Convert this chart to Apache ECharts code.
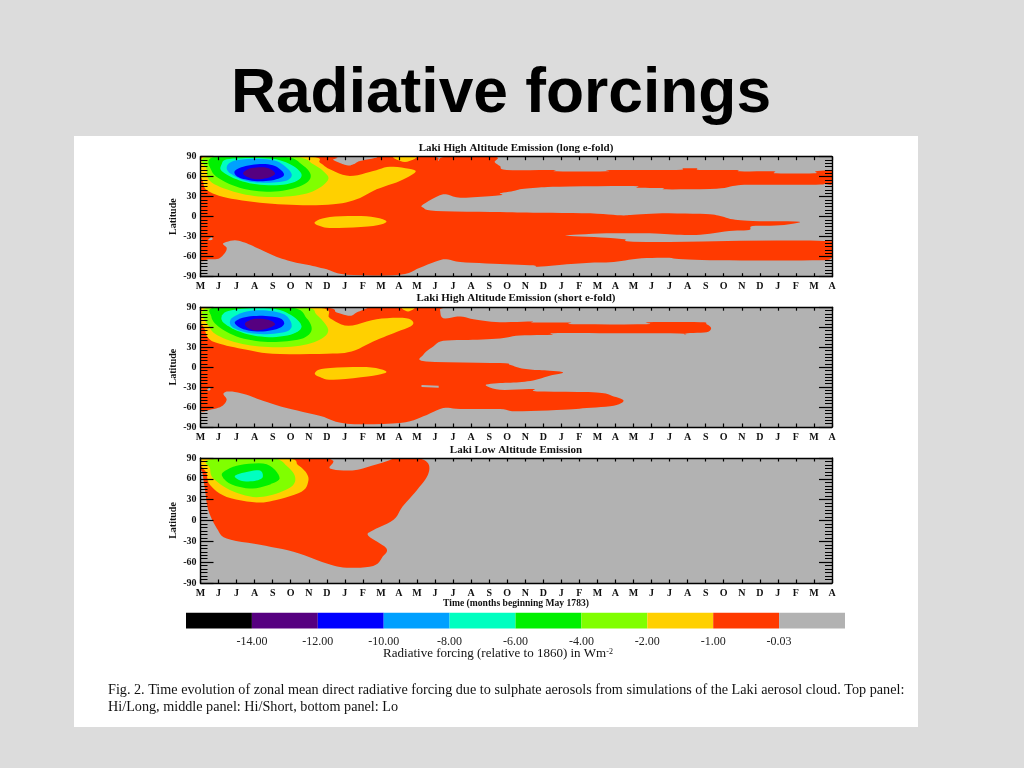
<!DOCTYPE html>
<html><head><meta charset="utf-8">
<style>html,body{margin:0;padding:0;background:#dcdcdc}#c{width:1024px;height:768px}</style>
<script src="https://cdn.jsdelivr.net/npm/echarts@6/dist/echarts.min.js"></script>
</head><body><div id="c"></div>
<script>
const monthLabels = ['M','J','J','A','S','O','N','D','J','F','M','A','M','J','J','A','S','O','N','D','J','F','M','A','M','J','J','A','S','O','N','D','J','F','M','A'];
const latTicks = [-90,-60,-30,0,30,60,90];
const barLabels = ['','-14.00','-12.00','-10.00','-8.00','-6.00','-4.00','-2.00','-1.00','-0.03',''];
const barCells = [0,1,2,3,4,5,6,7,8,9];

// contour outlines as [month index, latitude]
const longRed = [[0,90],[7,90],[7.36,85],[8.1,77],[8.47,78.5],[8.84,83.5],[9.76,88.5],[9.95,90],[12.9,90],[13.18,84],[13.6,90],[16.3,90],[16.3,82],[16.6,76],[16.96,70],[19.55,70],[19.73,68],[22.5,68],[22.7,70],[26.38,70],[26.75,72.5],[27.5,72.5],[27.67,70],[29.7,70],[29.9,68],[31.75,68],[31.9,65],[34,65],[34.1,68],[35,68],[35,49],[34.6,49],[34.1,48],[30.45,48],[29.5,46],[28.6,42],[25.8,41],[25.64,43],[24.2,43.5],[23.98,46],[19.9,45],[18.6,43.5],[17.7,41],[17.33,38.5],[16.6,35],[16.6,32],[14.4,28.5],[13.45,33.5],[12.35,18.5],[12.35,13.5],[13.05,8.5],[16.6,7],[18.44,6],[21.6,5],[23.3,2],[24,3],[25.6,5],[28,4],[28.8,1],[29.5,-4],[30.6,-6.5],[33.2,-7.5],[32.1,-13],[30.6,-14],[30.4,-20],[29.3,-21.5],[27.7,-27],[26.4,-27],[24.9,-25],[22.5,-25],[20.47,-27.5],[20.47,-29],[22.5,-31.5],[23.5,-34],[24.7,-38],[35,-37],[35,-61.5],[33.9,-65.5],[29.3,-65.5],[26.75,-64],[25.8,-61.5],[24.2,-63],[22.9,-68],[21.6,-69],[20.3,-71.5],[18.7,-75],[18.44,-73],[16.6,-71],[14.4,-68],[13.45,-64],[12.16,-76.5],[11.05,-87],[8.1,-87],[7,-79],[6.07,-73],[5.15,-68],[4.2,-60],[3.3,-49],[2.56,-40],[1.91,-35.5],[1.26,-40],[1.45,-46.5],[1.36,-54],[1,-63],[0.43,-64],[0,-65],[0,-37],[0.6,-35],[0.6,-31],[0,-29]];
const longYellow = [[0.16,90],[5.97,90],[6.62,81],[7.17,71],[8.28,61],[9.57,68.5],[10.5,75],[11.7,71],[11.88,66],[11.05,53.5],[9.76,41],[8.65,26],[7.36,18.5],[5.33,17.5],[3.3,21],[1.45,28.5],[0.43,38.5],[0.16,51]];
const longYellowEq = [[6.34,-8],[7.17,-0.5],[9.2,0.5],[10.3,-6.5],[9.57,-14],[7.36,-17],[6.62,-14]];
const longYellowTop = [[10.68,90],[11.97,90],[11.33,82]];
const longLime = [[0.43,90],[5.14,90],[6.25,78.5],[6.9,66],[7.08,56],[6.6,43.5],[5.7,33.5],[4.2,29.5],[2.74,32],[1.45,41],[0.53,53.5],[0.34,71]];
const longGreen = [[0.8,90],[4.6,90],[5.6,78.5],[6.1,63.5],[5.88,51],[4.96,41],[3.67,37.5],[2.37,42],[1.27,53.5],[0.62,68.5]];
const longTeal = [[1.45,86],[2.74,88],[4.2,86],[5.14,76],[5.6,63.5],[5.33,53.5],[4.4,47.5],[3.1,48.5],[2,56],[1.17,68.5],[1.17,78.5]];
const longSky = [[1.82,83.5],[3.1,87],[4.2,83.5],[4.87,71],[5.05,61],[4.68,53.5],[3.67,51],[2.56,53.5],[1.73,63.5],[1.45,73.5]];
const longBlue = [[1.9,68.5],[2.37,75],[3.3,79],[4.13,76],[4.63,63.5],[4.2,56],[3.3,53],[2.47,56],[2,61]];
const longPurple = [[2.37,66],[2.83,73],[3.67,73.5],[4.13,65],[3.76,58.5],[3.1,56],[2.56,60]];

const shortRed = [[0,90],[6.6,90],[7.55,82],[8.28,77],[8.65,82],[9.2,88],[9.6,90],[13.2,90],[13.27,86],[13.45,73.5],[14.4,76],[15.3,71],[16.6,67.5],[18.35,68.5],[18.44,67],[20.47,67],[20.65,64.5],[24.7,64.5],[24.8,67.5],[27.7,67.5],[28.05,64.5],[28.3,58.5],[28.05,52.5],[27,51],[26.75,48.5],[26.55,50.5],[22.1,51],[19.55,51],[19.45,48.5],[17.7,47.5],[16.6,43],[15.1,41],[13.45,39.5],[12.9,31],[12.35,18.5],[12.5,8.5],[16.6,6],[17.15,3.5],[17.7,-1.5],[18.4,-4],[19.2,-5],[20.1,-8],[19.35,-13],[18.44,-20],[17.5,-23],[16.6,-24],[15.8,-27],[16.6,-34],[18.44,-33],[18.65,-36.5],[21.95,-38],[22.9,-44],[23.45,-50.5],[22.9,-58],[21.4,-61.5],[20.1,-64],[17.5,-66.5],[16.6,-63],[14.4,-63],[13.45,-61.5],[12.35,-74],[11.05,-84],[8.1,-85],[6.6,-73],[4.77,-61.5],[3.3,-49],[2.56,-41.5],[1.63,-36.5],[1.27,-40],[1.45,-49],[1.17,-59],[0.53,-64],[0,-65],[0,-37],[0.5,-35],[0.5,-31],[0,-29]];
const shortSlit = [[12.25,-27],[13.2,-28],[13.2,-31],[12.25,-30]];
const shortYellow = [[0.15,90],[6.44,90],[7.17,73.5],[8.2,62],[9.76,72],[11.4,73.5],[11.76,63.5],[10.7,51],[9.57,38.5],[8.37,23.5],[7,20],[4,20],[2.56,26],[1.27,33.5],[0.53,41],[0.25,56]];
const shortYellowEq = [[6.34,-9],[6.9,-2],[9.2,0],[10.3,-6.5],[9.57,-13],[7.36,-19],[6.62,-15]];
const shortYellowTop = [[11.14,90],[11.88,90],[11.5,83.5]];
const shortLime = [[0.45,90],[5.6,90],[6.44,78.5],[7.08,56],[6.6,41],[5.5,32],[4,30],[2.56,33.5],[1.27,43.5],[0.53,58.5]];
const shortGreen = [[0.9,90],[4.96,90],[5.88,73.5],[6.16,56],[5.7,43.5],[4.6,38.5],[3.3,38.5],[2,46],[0.99,61],[0.6,76]];
const shortTeal = [[1.45,83.5],[2.74,88.5],[4.2,87],[5.14,76],[5.6,61],[5.14,50],[4,45],[2.74,48.5],[1.73,58.5],[1.17,71]];
const shortSky = [[1.73,73.5],[2.56,83.5],[3.67,85],[4.68,78.5],[5.05,63.5],[4.77,53.5],[3.67,49.5],[2.56,52],[1.73,61]];
const shortBlue = [[1.9,67],[2.47,75],[3.44,77],[4.4,73.5],[4.63,64.5],[4.2,57],[3.3,53.5],[2.37,57]];
const shortPurple = [[2.47,66],[3,72.5],[3.76,71],[4.13,64.5],[3.76,58.5],[3.1,55],[2.65,58.5]];

const lowRed = [[0,90],[6.8,90],[7.17,75],[8.28,72],[9,75],[10.5,87],[10.7,90],[12,90],[12.62,82],[12.6,65.5],[12,44],[11.2,20],[10.7,1],[9.57,-14],[9.3,-22],[10.3,-40],[10.1,-52],[9.57,-65.5],[8.1,-68],[7,-62],[5.15,-45],[3.3,-35],[1.45,-26],[0.9,-11],[0.43,15],[0.25,44],[0.1,70]];
const lowYellow = [[0.2,90],[4.7,90],[5.4,80],[5.88,68],[5.97,56],[5.6,41.5],[4.2,29.5],[3.1,26],[1.45,34],[0.53,51],[0.34,68]];
const lowLime = [[0.53,88],[3.9,90],[4.8,78],[5.24,63],[5.05,49],[4,37],[2.9,34],[1.63,44],[0.7,61],[0.53,75]];
const lowGreen = [[1.27,70],[2.2,80],[3.67,81],[4.37,63],[4,53.5],[2.9,46],[1.8,51],[1.27,61]];
const lowTeal = [[1.9,64],[2.56,70],[3.3,72],[3.44,62],[3,57],[2.3,57]];

const colors = ['#000000','#560080','#0000ff','#00a0ff','#00ffc0','#00f000','#80ff00','#ffd000','#ff3a00','#b2b2b2'];
const [cBlack,cPurple,cBlue,cSky,cTeal,cGreen,cLime,cYellow,cRed,cGray] = colors;

const panels = [
  [[longRed,cRed],[longYellow,cYellow],[longYellowEq,cYellow],[longYellowTop,cYellow],[longLime,cLime],[longGreen,cGreen],[longTeal,cTeal],[longSky,cSky],[longBlue,cBlue],[longPurple,cPurple]],
  [[shortRed,cRed],[shortSlit,cGray],[shortYellow,cYellow],[shortYellowEq,cYellow],[shortYellowTop,cYellow],[shortLime,cLime],[shortGreen,cGreen],[shortTeal,cTeal],[shortSky,cSky],[shortBlue,cBlue],[shortPurple,cPurple]],
  [[lowRed,cRed],[lowYellow,cYellow],[lowLime,cLime],[lowGreen,cGreen],[lowTeal,cTeal]]
];

const F = 'Liberation Serif';
const layout = [{top:156.7,height:120},{top:307.2,height:119.8},{top:458,height:125}];
const grids = layout.map(g => ({left:200.5,width:631.5,top:g.top,height:g.height,show:true,backgroundColor:cGray,borderWidth:0}));
grids.push({left:186,width:659,top:612.7,height:15.8,show:false});

const line = {show:true,onZero:false,lineStyle:{color:'#000',width:1.4}};
const xAxes = [], yAxes = [];
layout.forEach((g,i) => {
  ['bottom','top'].forEach(pos => xAxes.push({
    gridIndex:i,type:'value',position:pos,min:0,max:35,interval:1,z:10,
    axisLine:line,splitLine:{show:false},
    axisTick:{show:true,inside:true,length:3.5,lineStyle:{color:'#000',width:1.2}},
    axisLabel:{show:pos==='bottom',margin:5,color:'#111',fontFamily:F,fontWeight:'bold',fontSize:10,formatter:v=>monthLabels[v]}
  }));
  ['left','right'].forEach(pos => yAxes.push({
    gridIndex:i,type:'value',position:pos,min:-90,max:90,interval:30,z:10,
    name:pos==='left'?'Latitude':'',nameLocation:'middle',nameGap:22,nameRotate:90,nameMoveOverlap:false,
    nameTextStyle:{color:'#111',fontFamily:F,fontWeight:'bold',fontSize:10},
    axisLine:line,splitLine:{show:false},
    axisTick:{show:true,inside:true,length:13,lineStyle:{color:'#000',width:1.2}},
    minorTick:{show:true,splitNumber:6,length:7,lineStyle:{color:'#000',width:1}},
    axisLabel:{show:pos==='left',margin:4,color:'#111',fontFamily:F,fontWeight:'bold',fontSize:10,formatter:v=>latTicks.includes(v)?String(v):''}
  }));
});
xAxes.push({gridIndex:3,type:'value',min:0,max:10,interval:1,axisLine:{show:false},axisTick:{show:false},splitLine:{show:false},
  axisLabel:{margin:7,color:'#222',fontFamily:F,fontSize:12,showMinLabel:false,showMaxLabel:false,formatter:v=>barLabels[v]}});
yAxes.push({gridIndex:3,type:'value',min:0,max:1,show:false,splitLine:{show:false}});

// closed Catmull-Rom rounding of an outline, applied to the projected outline only
function rounded(p){
  const n=p.length,out=[];
  for(let i=0;i<n;i++){
    const a=p[(i-1+n)%n],b=p[i],c=p[(i+1)%n],d=p[(i+2)%n];
    for(let k=0;k<6;k++){
      const t=k/6,t2=t*t,t3=t2*t;
      out.push([0,1].map(j=>0.5*(2*b[j]+(c[j]-a[j])*t+(2*a[j]-5*b[j]+4*c[j]-d[j])*t2+(3*b[j]-a[j]-3*c[j]+d[j])*t3)));
    }
  }
  return out;
}

const series = [];
panels.forEach((layers,i) => layers.forEach(([pts,color]) => {
  const soft = color!==cGray;
  series.push({type:'custom',coordinateSystem:'cartesian2d',xAxisIndex:i*2,yAxisIndex:i*2,clip:true,silent:true,animation:false,
    data:pts,encode:{x:0,y:1},
    renderItem:(p,api)=>{
      if(p.dataIndex!==0) return null;
      const q=pts.map(v=>api.coord(v));
      return {type:'polygon',shape:{points:soft?rounded(q):q},style:{fill:color}};
    }});
}));
series.push({type:'custom',coordinateSystem:'cartesian2d',xAxisIndex:6,yAxisIndex:6,silent:true,animation:false,
  data:barCells.map(c=>[c,0]),encode:{x:0,y:1},
  renderItem:(p,api)=>{
    const a=api.coord([api.value(0),1]),b=api.coord([api.value(0)+1,0]);
    return {type:'rect',shape:{x:a[0],y:a[1],width:b[0]-a[0],height:b[1]-a[1]},style:{fill:colors[p.dataIndex]}};
  }});

const txt=(text,x,y,size,extra)=>({text,left:x,top:y,textAlign:(extra&&extra.align)||'center',textVerticalAlign:'middle',padding:0,
  textStyle:Object.assign({color:'#111',fontFamily:F,fontSize:size,fontWeight:(extra&&extra.weight)||'normal'},(extra&&extra.style)||{})});

const option = {
  backgroundColor:'#dcdcdc',animation:false,
  graphic:[{type:'rect',z:-10,silent:true,shape:{x:74,y:136,width:844,height:591},style:{fill:'#fff'}}],
  title:[
    txt('Radiative forcings',501,95,62.3,{weight:'bold',style:{fontFamily:'Liberation Sans',color:'#000'}}),
    txt('Laki High Altitude Emission (long e-fold)',516,148,11,{weight:'bold'}),
    txt('Laki High Altitude Emission (short e-fold)',516,298,11,{weight:'bold'}),
    txt('Laki Low Altitude Emission',516,450,11,{weight:'bold'}),
    txt('Time (months beginning May 1783)',516,604,9.6,{weight:'bold'}),
    txt('Radiative forcing (relative to 1860) in Wm{s|-2}',498,654,13,{style:{rich:{s:{fontSize:8,fontFamily:F,color:'#111',verticalAlign:'top',lineHeight:10,padding:[0,0,6,0]}}}}),
    txt('Fig. 2. Time evolution of zonal mean direct radiative forcing due to sulphate aerosols from simulations of the Laki aerosol cloud. Top panel:',108,690,14.2,{align:'left'}),
    txt('Hi/Long, middle panel: Hi/Short, bottom panel: Lo',108,707,14.2,{align:'left'})
  ],
  grid:grids,xAxis:xAxes,yAxis:yAxes,series
};
echarts.init(document.getElementById('c'),null,{renderer:'canvas'}).setOption(option);
</script></body></html>
